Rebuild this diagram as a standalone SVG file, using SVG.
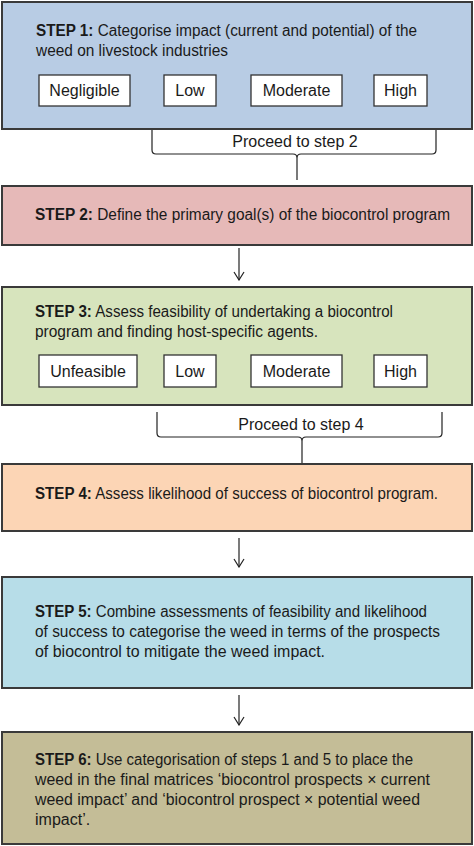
<svg xmlns="http://www.w3.org/2000/svg" width="474" height="846" viewBox="0 0 474 846">
<style>
.step{stroke:#3a3a3a;stroke-width:2}
.opt{fill:#fff;stroke:#333;stroke-width:1.3}
text{font-family:"Liberation Sans",Arial,sans-serif;font-size:16px;fill:#1a1a1a}
.b{font-weight:bold}
.c{text-anchor:middle}
.con{fill:none;stroke:#222;stroke-width:1.2}
</style>
<defs>
<marker id="ah" viewBox="0 0 12 12" refX="11" refY="6" markerWidth="12" markerHeight="12" markerUnits="userSpaceOnUse" orient="auto">
<path d="M3,1 L11,6 L3,11" fill="none" stroke="#222" stroke-width="1.2"/>
</marker>
</defs>
<rect width="474" height="846" fill="#fff"/>
<g id="step1">
<rect class="step" x="2" y="2" width="470" height="127" fill="#b8cce4"/>
<text x="36" y="36" textLength="381" lengthAdjust="spacingAndGlyphs"><tspan class="b">STEP 1:</tspan> Categorise impact (current and potential) of the</text>
<text x="36" y="56" textLength="192" lengthAdjust="spacingAndGlyphs">weed on livestock industries</text>
<g id="s1-negligible"><rect class="opt" x="39" y="75" width="91" height="31"/><text class="c" x="84.5" y="96">Negligible</text></g>
<g id="s1-low"><rect class="opt" x="164" y="75" width="52" height="31"/><text class="c" x="190" y="96">Low</text></g>
<g id="s1-moderate"><rect class="opt" x="251" y="75" width="91" height="31"/><text class="c" x="296.5" y="96">Moderate</text></g>
<g id="s1-high"><rect class="opt" x="374" y="75" width="53" height="31"/><text class="c" x="400.5" y="96">High</text></g>
</g>
<g id="step2">
<rect class="step" x="2" y="186" width="470" height="59" fill="#e6b9b8"/>
<text x="35" y="220" textLength="415" lengthAdjust="spacingAndGlyphs"><tspan class="b">STEP 2:</tspan> Define the primary goal(s) of the biocontrol program</text>
</g>
<g id="step3">
<rect class="step" x="2" y="287" width="470" height="118" fill="#d7e4bd"/>
<text x="35" y="317" textLength="358" lengthAdjust="spacingAndGlyphs"><tspan class="b">STEP 3:</tspan> Assess feasibility of undertaking a biocontrol</text>
<text x="35" y="337" textLength="283" lengthAdjust="spacingAndGlyphs">program and finding host-specific agents.</text>
<g id="s3-unfeasible"><rect class="opt" x="39" y="355" width="98" height="32"/><text class="c" x="88" y="377">Unfeasible</text></g>
<g id="s3-low"><rect class="opt" x="164" y="355" width="52" height="32"/><text class="c" x="190" y="377">Low</text></g>
<g id="s3-moderate"><rect class="opt" x="251" y="355" width="91" height="32"/><text class="c" x="296.5" y="377">Moderate</text></g>
<g id="s3-high"><rect class="opt" x="374" y="355" width="53" height="32"/><text class="c" x="400.5" y="377">High</text></g>
</g>
<g id="step4">
<rect class="step" x="2" y="464" width="470" height="67" fill="#fcd5b5"/>
<text x="35" y="499" textLength="403" lengthAdjust="spacingAndGlyphs"><tspan class="b">STEP 4:</tspan> Assess likelihood of success of biocontrol program.</text>
</g>
<g id="step5">
<rect class="step" x="2" y="577" width="470" height="111" fill="#b7dde8"/>
<text x="35" y="617" textLength="392" lengthAdjust="spacingAndGlyphs"><tspan class="b">STEP 5:</tspan> Combine assessments of feasibility and likelihood</text>
<text x="35" y="637" textLength="405" lengthAdjust="spacingAndGlyphs">of success to categorise the weed in terms of the prospects</text>
<text x="35" y="657" textLength="290" lengthAdjust="spacingAndGlyphs">of biocontrol to mitigate the weed impact.</text>
</g>
<g id="step6">
<rect class="step" x="2" y="732" width="470" height="112" fill="#c4bd97"/>
<text x="35" y="765" textLength="378" lengthAdjust="spacingAndGlyphs"><tspan class="b">STEP 6:</tspan> Use categorisation of steps 1 and 5 to place the</text>
<text x="35" y="785" textLength="395" lengthAdjust="spacingAndGlyphs">weed in the final matrices ‘biocontrol prospects × current</text>
<text x="35" y="805" textLength="385" lengthAdjust="spacingAndGlyphs">weed impact’ and ‘biocontrol prospect × potential weed</text>
<text x="35" y="825">impact’.</text>
</g>
<g id="connectors">
<path class="con" d="M152,130 V150 Q152,154 156,154 H293 Q297,154 297,158 V180 M297,158 Q297,154 301,154 H432 Q436,154 436,150 V130"/>
<text class="c" x="295" y="147">Proceed to step 2</text>
<line class="con" x1="239" y1="248" x2="239" y2="280" marker-end="url(#ah)"/>
<path class="con" d="M157,412 V433 Q157,437 161,437 H298 Q302,437 302,441 V463 M302,441 Q302,437 306,437 H438 Q442,437 442,433 V412"/>
<text class="c" x="301" y="430">Proceed to step 4</text>
<line class="con" x1="239" y1="538" x2="239" y2="567" marker-end="url(#ah)"/>
<line class="con" x1="239" y1="695" x2="239" y2="725" marker-end="url(#ah)"/>
</g>
</svg>
